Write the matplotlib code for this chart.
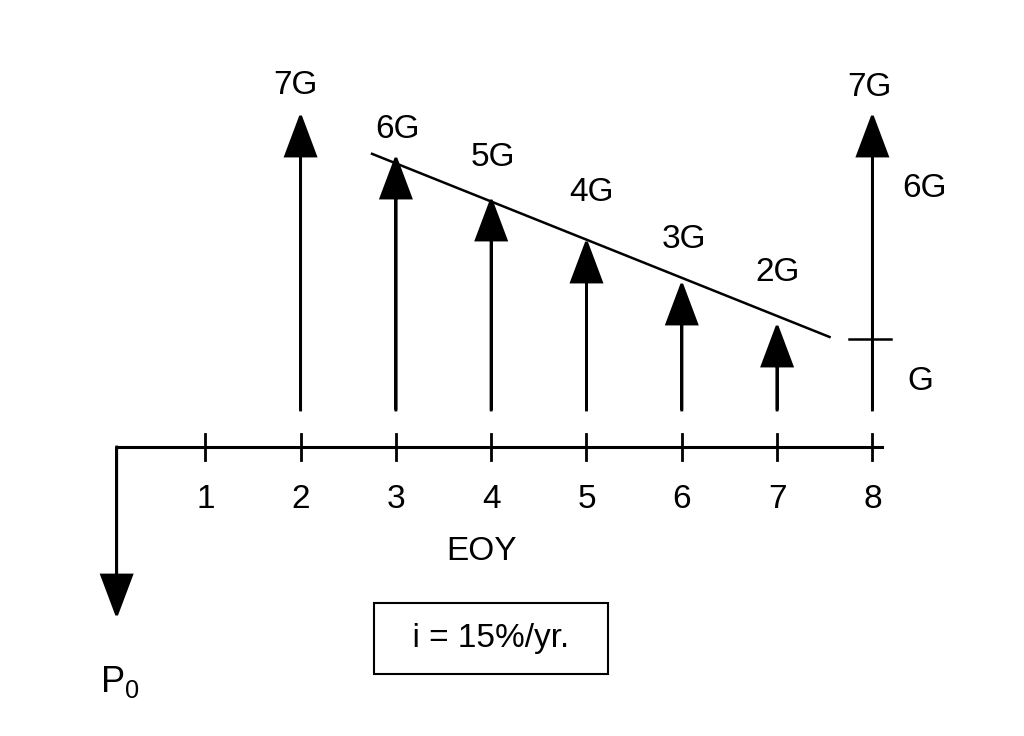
import matplotlib.pyplot as plt

plt.rcParams['font.family'] = ['Liberation Sans', 'DejaVu Sans']
plt.rcParams['mathtext.default'] = 'regular'

# dados do diagrama de fluxo de caixa (valores em unidades de G)
anos = [1, 2, 3, 4, 5, 6, 7, 8]
anos_setas = [2, 3, 4, 5, 6, 7, 8]
valores = [7, 6, 5, 4, 3, 2, 7]
rotulos = ['7G', '6G', '5G', '4G', '3G', '2G', '7G']

base = 0.88      # as setas começam um pouco acima do eixo
px_ano = 95.3    # pixels por ano
px_g = 42.0      # pixels por G

fig = plt.figure(figsize=(10.24, 7.36), dpi=100)
ax = fig.add_axes([0, 0, 1, 1])
ax.set_xlim(-110 / px_ano, (1024 - 110) / px_ano)
ax.set_ylim(-(736 - 447) / px_g, 447 / px_g)
ax.axis('off')

hw = 30 / px_ano
hl = 40 / px_g
fs = 24

# eixo do tempo
ax.plot([0.07, 8.1], [0, 0], 'k-', lw=2.2)
for a in anos:
	ax.plot([a, a], [-0.3, 0.3], 'k-', lw=2)
	ax.text(a, -1.25, str(a), ha='center', va='center', fontsize=fs)
ax.text(3.9, -2.5, 'EOY', ha='center', va='center', fontsize=fs)

# setas para cima
for a, v in zip(anos_setas, valores):
	ax.arrow(a, base, 0, v, width=0.001, head_width=hw, head_length=hl,
		length_includes_head=True, fc='k', ec='k', lw=2)

# rotulos das setas
pos_rot = [(1.95, 8.6), (3.02, 7.55), (4.02, 6.9), (5.05, 6.05), (6.02, 4.95), (7.0, 4.15), (7.97, 8.55)]
for (x, y), r in zip(pos_rot, rotulos):
	ax.text(x, y, r, ha='center', va='center', fontsize=fs)

# linha do gradiente
ax.plot([2.75, 7.55], [6.98, 2.62], 'k-', lw=1.8)

# marca G na seta do ano 8
ax.plot([7.75, 8.2], [base + 1.7, base + 1.7], 'k-', lw=1.8)
ax.text(8.55, 6.15, '6G', ha='center', va='center', fontsize=fs)
ax.text(8.5, 1.55, 'G', ha='center', va='center', fontsize=fs)

# P0 para baixo
ax.arrow(0.07, 0, 0, -4.0, width=0.001, head_width=hw, head_length=hl,
	length_includes_head=True, fc='k', ec='k', lw=2)
ax.text(0.1, -5.6, 'P$_0$', ha='center', va='center', fontsize=26)

# caixa da taxa de juros
ax.text(4.0, -4.55, '  i = 15%/yr.  ', ha='center', va='center', fontsize=fs,
	bbox=dict(boxstyle='square,pad=0.6', fc='white', ec='k', lw=1.5))

plt.savefig('out.png', dpi=100)
